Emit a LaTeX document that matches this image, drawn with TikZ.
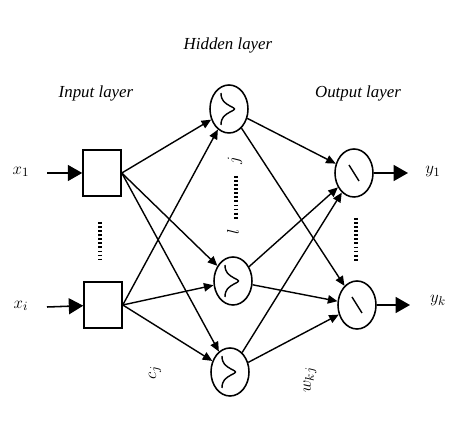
\documentclass[tikz,border=0pt]{standalone}
\usepackage{fontspec}
\setmainfont{Liberation Serif}
\usetikzlibrary{arrows.meta,calc,shapes.geometric}
\tikzset{
	inbox/.style={draw,line width=1.1pt,minimum width=0.95cm,minimum height=1.15cm,inner sep=0pt},
	neuron/.style={draw,line width=1.1pt,ellipse,minimum width=0.95cm,minimum height=1.2cm,inner sep=0pt},
	link/.style={line width=1pt,-{Triangle[length=2.4mm,width=2.1mm]}},
	feed/.style={line width=1.1pt,-{Triangle[length=3.6mm,width=4mm]}},
	dotline/.style={line width=2.6pt,dash pattern=on 1.3pt off 1.6pt},
	layer/.style={font=\itshape\fontsize{12}{14}\selectfont},
	sig/.style={font=\fontsize{13}{15}\selectfont}
}
\begin{document}
\begin{tikzpicture}[x=0.025cm,y=-0.025cm]
		\useasboundingbox (0,0) rectangle (474,425);
		\node[layer] (hidlab) at (228,45) {Hidden layer};
		\node[layer] (inlab) at (96,93) {Input layer};
		\node[layer] (outlab) at (358,93) {Output layer};
		\node[inbox] (in1) at (102,173) {};
		\node[inbox] (in2) at (103,305) {};
		\node[neuron] (h1) at (229,109) {};
		\node[neuron] (h2) at (233,281) {};
		\node[neuron] (h3) at (230,372) {};
		\node[neuron] (out1) at (354,173) {};
		\node[neuron] (out2) at (357,305) {};
		\node[sig] (x1) at (21,172) {$x_1$};
		\node[sig] (xi) at (21,306) {$x_i$};
		\node[sig] (y1) at (433,172) {$y_1$};
		\node[sig] (yk) at (438,301) {$y_k$};
		\coordinate (s1) at (47,173);
		\coordinate (s2) at (47,307);
		\coordinate (e1) at (408,173);
		\coordinate (e2) at (410,305);
		\draw[feed] (s1) -- (in1);
		\draw[feed] (s2) -- (in2);
		\draw[feed] (out1) -- (e1);
		\draw[feed] (out2) -- (e2);
		\foreach \i in {1,2}{
			\foreach \j in {1,2,3}{
				\draw[link] (in\i.east) -- (h\j);
				\draw[link] (h\j) -- (out\i);
			}
			\draw[line width=1pt] ($(out\i)+(-5,-8)$) -- ($(out\i)+(5,8)$);
		}
		\foreach \j in {1,2,3}{
			\draw[line width=1pt] ($(h\j)+(-8,-16)$) .. controls ($(h\j)+(-8,-8)$) and ($(h\j)+(-4,-6)$) .. ($(h\j)+(1,-3)$)
				.. controls ($(h\j)+(7,0)$) .. ($(h\j)+(1,3)$)
				.. controls ($(h\j)+(-4,6)$) and ($(h\j)+(-8,8)$) .. ($(h\j)+(-8,16)$);
		}
		\draw[dotline] (100,222) -- (100,260);
		\draw[dotline] (236,176) -- (236,219);
		\draw[dotline] (356,218) -- (356,262);
		\node[sig,rotate=90] (jlab) at (235,161) {$j$};
		\node[sig,rotate=90] (llab) at (233,232) {$l$};
		\node[sig,rotate=90] (cj) at (155,373) {$c_j$};
		\node[sig,rotate=90] (wkj) at (310,380) {$w_{kj}$};
	\end{tikzpicture}
\end{document}
